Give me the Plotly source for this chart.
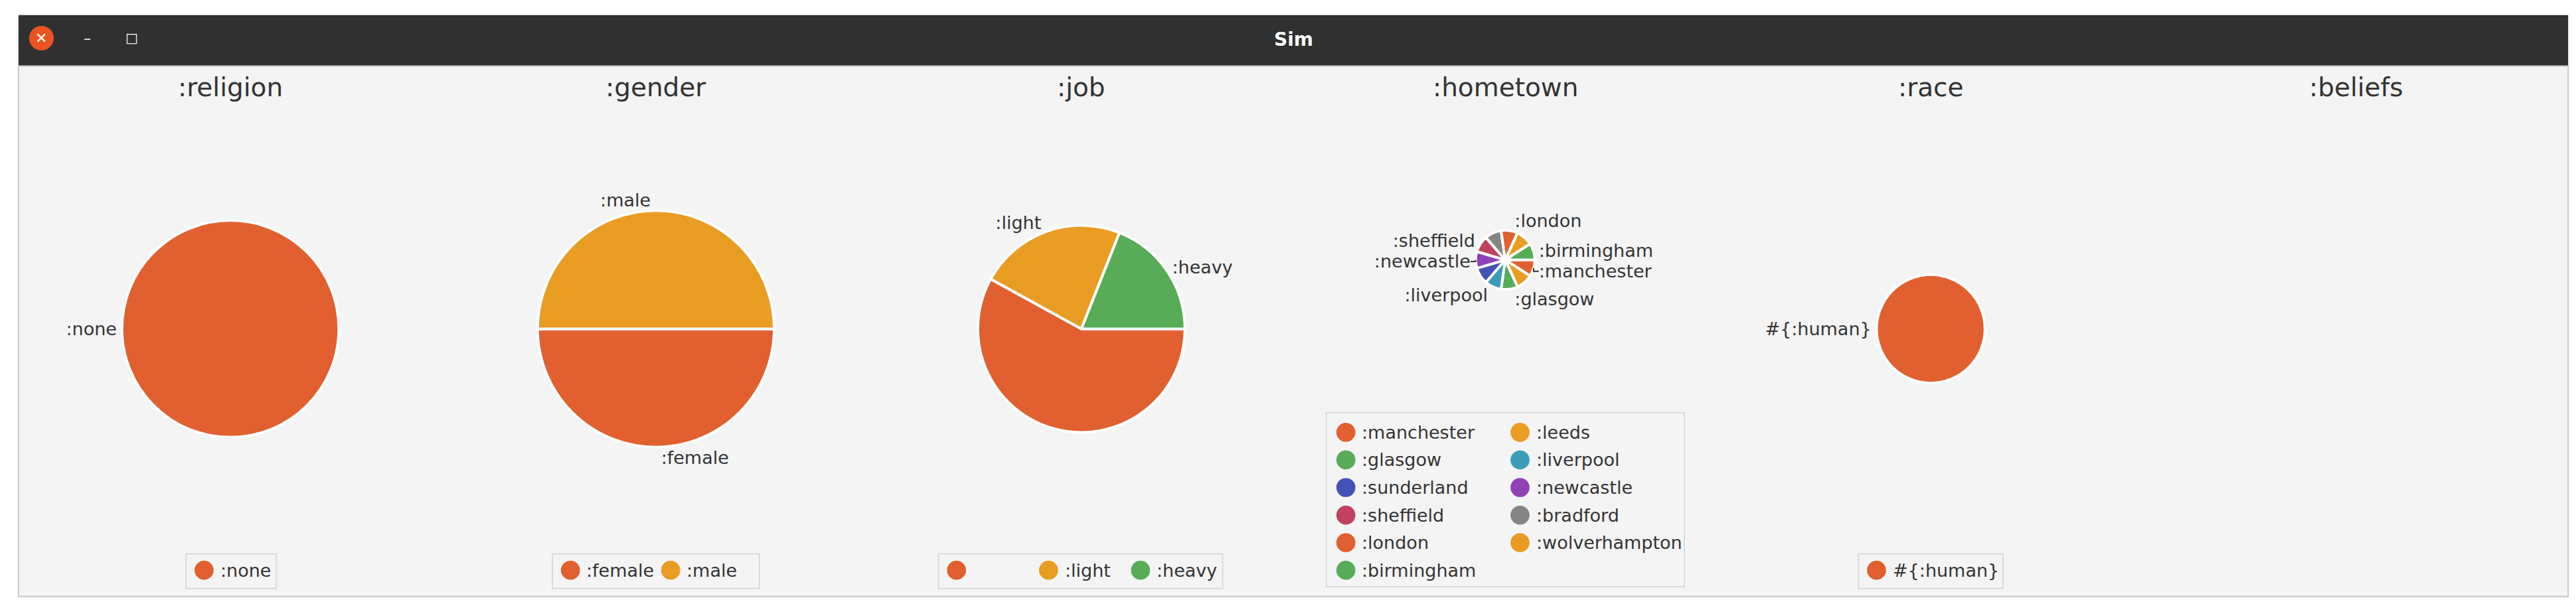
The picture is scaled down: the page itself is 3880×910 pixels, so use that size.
import plotly.graph_objects as go

W, H = 3880, 910
S = 3880 / 1568

# data
religion_labels = [":none"]
religion_values = [1]
gender_labels = [":female", ":male"]
gender_values = [1, 1]
job_labels = [" ", ":light", ":heavy"]
job_values = [58, 23, 19]
hometown_labels = [":manchester", ":leeds", ":glasgow", ":liverpool", ":sunderland", ":newcastle",
                   ":sheffield", ":bradford", ":london", ":wolverhampton", ":birmingham"]
hometown_values = [1, 1, 1, 1, 1, 1, 1, 1, 1, 1, 1]
hometown_shown = [":manchester", ":glasgow", ":liverpool", ":newcastle", ":sheffield", ":london", ":birmingham"]
race_labels = ["#{:human}"]
race_values = [1]
titles = [":religion", ":gender", ":job", ":hometown", ":race", ":beliefs"]

RED, ORG, GRN = "#e2602f", "#e89d22", "#58ab57"
hometown_colors = [RED, ORG, GRN, "#3b9cba", "#4452b6", "#9142b8", "#c2415f", "#858585", RED, ORG, GRN]

FONT = "DejaVu Sans"
TXT = "#333333"


def X(p):
    return p / W


def Y(p):
    return 1 - p / H


def note(x, y, text, size, color=TXT, xanchor="center"):
    return dict(x=X(x), y=Y(y), xref="paper", yref="paper", text=text, showarrow=False,
                xanchor=xanchor, yanchor="middle", font=dict(size=size, color=color, family=FONT))


fig = go.Figure()
shapes = []
ann = []

# window chrome
shapes.append(dict(type="rect", xref="paper", yref="paper", x0=X(8 * S), x1=X(1560 * S), y0=Y(6 * S), y1=Y(37 * S),
                   fillcolor="#303030", line=dict(width=0), layer="below"))
shapes.append(dict(type="rect", xref="paper", yref="paper", x0=X(8 * S), x1=X(1560 * S), y0=Y(37 * S), y1=Y(360 * S),
                   fillcolor="#f4f4f4", line=dict(color="#c8c8c8", width=2), layer="below"))
cx, cy, r = 22 * S, 20 * S, 7.5 * S
shapes.append(dict(type="circle", xref="paper", yref="paper", x0=X(cx - r), x1=X(cx + r), y0=Y(cy + r), y1=Y(cy - r),
                   fillcolor="#e95420", line=dict(width=0)))
ann.append(note(cx, cy, "✕", 22, "white"))
ann.append(note(50 * S, 20 * S, "–", 22, "white"))
ann.append(note(77 * S, 20 * S, "□", 20, "white"))
ann.append(note(W / 2, 21 * S, "<b>Sim</b>", 28, "white"))

# titles
for t, x in zip(titles, [137, 396, 655, 913, 1172, 1431]):
    ann.append(note(x * S, 50 * S, t, 39))

# pies
pies = [
    (religion_labels, religion_values, [RED], religion_labels, (137, 197, 66)),
    (gender_labels, gender_values, [RED, ORG], gender_labels, (396, 197, 72)),
    (job_labels, job_values, [RED, ORG, GRN], job_labels, (655, 197, 63)),
    (hometown_labels, hometown_values, hometown_colors,
     [l if l in hometown_shown else "" for l in hometown_labels], (913, 155, 18)),
    (race_labels, race_values, [RED], race_labels, (1172, 197, 33)),
]
for labels, values, colors, text, (cx, cy, r) in pies:
    fig.add_trace(go.Pie(
        labels=labels, values=values, text=text, texttemplate="%{text}", textposition="outside",
        sort=False, direction="clockwise", rotation=90, showlegend=False, hoverinfo="label+value",
        marker=dict(colors=colors, line=dict(color="white", width=4)),
        textfont=dict(size=27, color=TXT, family=FONT),
        domain=dict(x=[X((cx - r) * S), X((cx + r) * S)], y=[Y((cy + r) * S), Y((cy - r) * S)]),
    ))

# legends (display-scale positions)
legends = [
    ((110, 334, 165, 355), religion_labels, [RED], [(121, 344)]),
    ((333, 334, 459, 355), gender_labels, [RED, ORG], [(344, 344), (405, 344)]),
    ((568, 334, 741, 355), job_labels, [RED, ORG, GRN], [(579, 344), (635, 344), (691, 344)]),
    ((804, 248, 1022, 354), hometown_labels, hometown_colors,
     [(816 + 106 * (i % 2), 260 + 16.8 * (i // 2)) for i in range(11)]),
    ((1128, 334, 1216, 355), race_labels, [RED], [(1139, 344)]),
]
for (bx0, by0, bx1, by1), labels, colors, pos in legends:
    shapes.append(dict(type="rect", xref="paper", yref="paper", x0=X(bx0 * S), x1=X(bx1 * S),
                       y0=Y(by1 * S), y1=Y(by0 * S), fillcolor="#f4f4f4",
                       line=dict(color="#dadada", width=2)))
    for lab, col, (px_, py_) in zip(labels, colors, pos):
        rr = 5.8 * S
        shapes.append(dict(type="circle", xref="paper", yref="paper", x0=X(px_ * S - rr), x1=X(px_ * S + rr),
                           y0=Y(py_ * S + rr), y1=Y(py_ * S - rr), fillcolor=col, line=dict(width=0)))
        ann.append(note((px_ + 9) * S, py_ * S, lab, 27, xanchor="left"))

fig.update_layout(width=W, height=H, margin=dict(l=0, r=0, t=0, b=0),
                  paper_bgcolor="white", plot_bgcolor="white",
                  shapes=shapes, annotations=ann, font=dict(family=FONT))
fig.write_html("out.html")
